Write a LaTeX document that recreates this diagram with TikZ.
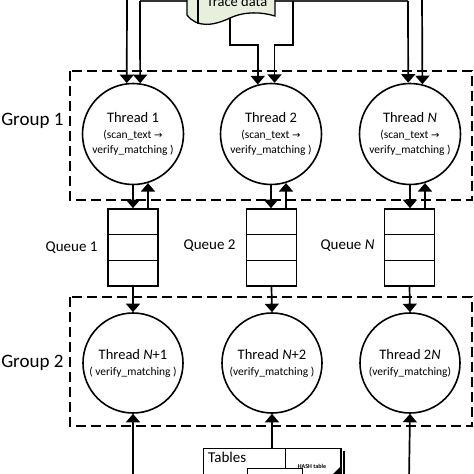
\documentclass[tikz,border=0pt]{standalone}
\usepackage{fontspec}
\setmainfont{Carlito}
\newfontfamily\dvs{DejaVu Sans}
\usetikzlibrary{arrows.meta,calc}
\definecolor{docfill}{RGB}{232,239,220}
\begin{document}
\begin{tikzpicture}[x=1pt,y=-1pt,
  thread/.style={circle,draw,line width=1.6pt,minimum size=101pt,inner sep=0pt,align=center,
    font=\fontsize{11.5}{15}\selectfont},
  queue/.style={draw,line width=1.6pt,minimum width=50pt,minimum height=77pt,inner sep=0pt},
  grp/.style={draw,line width=2.3pt,dash pattern=on 10pt off 5pt},
  arr/.style={line width=1.7pt,-{Triangle[length=8.5pt,width=14pt]}},
  ln/.style={line width=1.7pt},
  big/.style={font=\fontsize{19}{22}\selectfont},
  qlab/.style={font=\fontsize{15}{18}\selectfont,anchor=east},
  box/.style={draw,line width=1.4pt,fill=white,inner sep=0pt,anchor=north west},
]
\newcommand{\ttl}[1]{{\fontsize{14.5}{15}\selectfont #1}}
\newcommand{\rarr}{{\dvs\fontsize{10}{11}\selectfont →}}
\useasboundingbox (0,0) rectangle (474,474);

% group boxes
\draw[grp] (70,71) rectangle (472,200);
\draw[grp] (70,297) rectangle (472,426);
\node[big,anchor=east] (g1) at (67,121) {Group 1};
\node[big,anchor=east] (g2) at (67,363) {Group 2};

% top horizontal line (behind document)
\coordinate (h1) at (140,1);
\coordinate (h2) at (408,1);
\coordinate (h3) at (293,1);
\draw[line width=2.2pt,black!80] (h1) -- (h2);

% trace data document
\draw[line width=1.3pt,fill=docfill] (187,-20) -- (187,15)
  .. controls (197,28) and (213,26) .. (230,18)
  .. controls (245,11) and (262,12) .. (275,16) -- (275,-20) -- cycle;
\draw[line width=1.3pt] (198,-20) -- (198,24);
\node[font=\fontsize{14.5}{16}\selectfont,anchor=base] (doc) at (237,6) {Trace data};
\coordinate (d1) at (230,18);

% threads group 1
\node[thread] (T1) at (133,134) {\ttl{Thread 1}\\[1pt](scan\_text \rarr\\verify\_matching )};
\node[thread] (T2) at (271,134) {\ttl{Thread 2}\\[1pt](scan\_text \rarr\\verify\_matching )};
\node[thread] (TN) at (410,134) {\ttl{Thread \textit{N}}\\[1pt](scan\_text \rarr\\verify\_matching )};

% threads group 2
\node[thread,minimum size=100pt] (U1) at (133,363) {\ttl{Thread \textit{N}+1}\\[1pt]( verify\_matching )};
\node[thread,minimum size=100pt] (U2) at (272,363) {\ttl{Thread \textit{N}+2}\\[1pt](verify\_matching )};
\node[thread,minimum size=100pt] (U3) at (410,363) {\ttl{Thread 2\textit{N}}\\[1pt](verify\_matching)};

% queues
\foreach \n/\x in {Q1/133,Q2/271.5,QN/409.5}{
  \node[queue] (\n) at (\x,247.5) {};
  \draw[line width=1.6pt] ($(\n.north west)!1/3!(\n.south west)$) -- ($(\n.north east)!1/3!(\n.south east)$);
  \draw[line width=1.6pt] ($(\n.north west)!2/3!(\n.south west)$) -- ($(\n.north east)!2/3!(\n.south east)$);
}
\node[qlab] (q1l) at (101,248) {Queue 1};
\node[qlab] (q2l) at (239,246) {Queue 2};
\node[qlab] (qnl) at (378,246) {Queue \textit{N}};

% inputs from top
\coordinate (top1) at (127,-5);
\coordinate (top2) at (422,-5);
\draw[arr] (top1) -- (T1.97);
\draw[arr] (h1) -- (T1.82);
\draw[arr] (h2) -- (TN.92);
\draw[arr] (top2) -- (TN.76);
\draw[arr] (d1) -- (230,45) -| (T2.105);
\draw[arr] (h3) -- (293,45) -| (T2.86);

% thread <-> queue
\foreach \t/\q in {T1/Q1,T2/Q2,TN/QN}{
  \draw[arr] (\t.south) -- (\q.north -| \t.south);
  \draw[arr] (\q.north -| \t.-73) -- (\t.-73);
}
% queue -> group 2
\draw[arr] (Q1.south) -- (U1.north);
\draw[arr] (Q2.south) -- (U2.north);
\draw[arr] (QN.south) -- (U3.north);

% tables
\draw[line width=1.3pt] (344,451) -- (344,480);
\node[box,minimum width=138pt,minimum height=50pt] (tables) at (203,448) {};
\node[font=\fontsize{15}{17}\selectfont,anchor=north west,inner sep=0pt] (tl) at (208,452) {Tables};
\node[box,minimum width=55pt,minimum height=40pt] (hash) at (285,448) {};
\node[font=\fontsize{6}{7}\selectfont\bfseries] (hl) at (312,466) {HASH table};
\fill (340,467) -- (340,474) -- (333,474) -- cycle;
\node[box,minimum width=55pt,minimum height=30pt] (inner) at (247,468) {};

% bottom inputs
\coordinate (b1) at (133,480);
\coordinate (b3) at (409,480);
\draw[arr] (b1) -- (U1.south);
\draw[arr] (tables.north -| U2.south) -- (U2.south);
\draw[arr] (b3) -- (U3.south);
\end{tikzpicture}
\end{document}
